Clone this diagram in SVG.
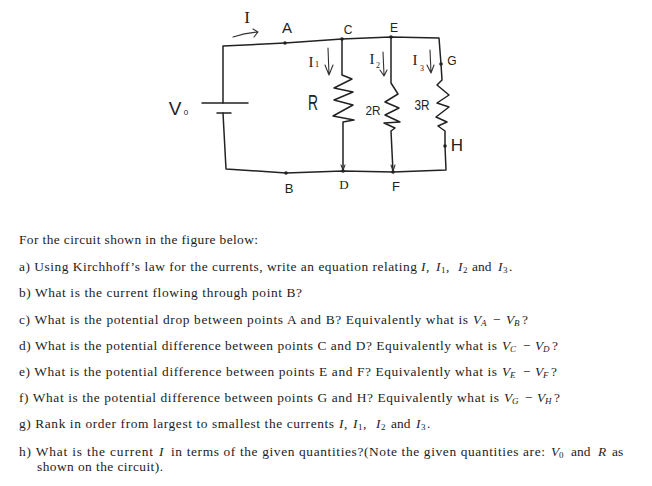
<svg xmlns="http://www.w3.org/2000/svg" width="652" height="486" viewBox="0 0 652 486">
<style>
.w{fill:none;stroke:#222;stroke-width:1.5;stroke-linecap:round;stroke-linejoin:round}
.a{fill:none;stroke:#333;stroke-width:1.1;stroke-linecap:round;stroke-linejoin:round}
.d{fill:#222}
.h{font-family:"Liberation Sans",Arial,sans-serif;fill:#222;text-anchor:middle}
.hs{font-family:"Liberation Serif","Times New Roman",serif;fill:#222;text-anchor:middle}
.t{font-family:"Liberation Serif","Times New Roman",serif;font-size:13.4px;fill:#1c1c1c}
.m{font-style:italic}
.s{font-size:9px}
</style>
<rect width="652" height="486" fill="#fff"/>
<g id="connectors">
<path class="w" d="M223 103L223 46L285 43L342 39L391 37L439 38L441 64L442 80L437 85L449 95L437 103L449 107L436 117L447 122L438 126L445 131L445 146L446 170L393 172L343 171L286 173L226 169L223 113"/>
<path class="w" d="M202 103H248M217 113H231"/>
<path class="w" d="M342 39L342 75L352 79L334 88L353 92L334 100L353 105L333 116L354 120L343 122L343 171"/>
<path class="w" d="M391 37L391 83L398 94L385 102L399 108L385 115L400 122L384 123L395 128L391 131L393 172"/>
<path class="a" d="M233 37Q245 33 258 32M253 29L258 32L254 37"/>
<path class="a" d="M328 48L329 75M325 65L329 75L333 65"/>
<path class="a" d="M383 52L384 75M380 70L384 76L387 70"/>
<path class="a" d="M430 50L431 73M427 65L431 73L434 65"/>
<path class="a" d="M341 165L343 170L345 165M391 165L393 171L395 165"/>
</g>
<g id="node-I"><text class="hs" x="247" y="23" font-size="17">I</text></g>
<g id="node-A"><circle class="d" cx="285" cy="43" r="1.8"/><text class="h" x="287" y="33" font-size="15">A</text></g>
<g id="node-C"><circle class="d" cx="342" cy="39" r="1.8"/><text class="h" x="348" y="34" font-size="12">C</text></g>
<g id="node-E"><circle class="d" cx="391" cy="37" r="1.8"/><text class="h" x="394" y="32" font-size="12">E</text></g>
<g id="node-G"><circle class="d" cx="441" cy="64" r="1.8"/><text class="h" x="452" y="65" font-size="12">G</text></g>
<g id="node-H"><circle class="d" cx="445" cy="146" r="1.8"/><text class="h" x="457" y="151" font-size="17">H</text></g>
<g id="node-B"><circle class="d" cx="286" cy="173" r="1.8"/><text class="h" x="289" y="193" font-size="13">B</text></g>
<g id="node-D"><circle class="d" cx="343" cy="171" r="1.8"/><text class="hs" x="344" y="189" font-size="13">D</text></g>
<g id="node-F"><circle class="d" cx="393" cy="172" r="1.8"/><text class="h" x="396" y="191" font-size="13">F</text></g>
<g id="label-I1"><text class="hs" x="311" y="67" font-size="15">I</text><text class="hs" x="317" y="67" font-size="9">1</text></g>
<g id="label-I2"><text class="hs" x="372" y="64" font-size="15">I</text><text class="hs" x="378" y="68" font-size="8">2</text></g>
<g id="label-I3"><text class="hs" x="415" y="65" font-size="15">I</text><text class="hs" x="422" y="71" font-size="8">3</text></g>
<g id="label-R"><text class="h" x="313" y="110" font-size="22" textLength="10" lengthAdjust="spacingAndGlyphs">R</text></g>
<g id="label-2R"><text class="h" x="373" y="115" font-size="13" textLength="15" lengthAdjust="spacingAndGlyphs">2R</text></g>
<g id="label-3R"><text class="h" x="422" y="110" font-size="15" textLength="15" lengthAdjust="spacingAndGlyphs">3R</text></g>
<g id="label-V0"><text class="h" x="175" y="115" font-size="19">V</text><text class="h" x="186" y="115" font-size="8">0</text></g>

<text class="t" x="19" y="244" textLength="239">For the circuit shown in the figure below:</text>

<text class="t" x="19" y="271" textLength="398">a) Using Kirchhoff’s law for the currents, write an equation relating</text>
<text class="t" y="271"><tspan class="m" x="421">I</tspan><tspan x="426">,</tspan><tspan class="m" x="436">I</tspan><tspan class="s" x="441" dy="2">1</tspan><tspan x="446" dy="-2">,</tspan><tspan class="m" x="458">I</tspan><tspan class="s" x="463" dy="2">2</tspan><tspan x="472" dy="-2">and</tspan><tspan class="m" x="498">I</tspan><tspan class="s" x="503" dy="2">3</tspan><tspan x="509" dy="-2">.</tspan></text>

<text class="t" x="19" y="297" textLength="283">b) What is the current flowing through point B?</text>

<text class="t" x="19" y="324" textLength="449">c) What is the potential drop between points A and B? Equivalently what is</text>
<text class="t" y="324"><tspan class="m" x="473">V</tspan><tspan class="m s" x="481" dy="2">A</tspan><tspan x="493" dy="-2">−</tspan><tspan class="m" x="506">V</tspan><tspan class="m s" x="514" dy="2">B</tspan><tspan x="522" dy="-2">?</tspan></text>

<text class="t" x="19" y="350" textLength="478">d) What is the potential difference between points C and D? Equivalently what is</text>
<text class="t" y="350"><tspan class="m" x="502">V</tspan><tspan class="m s" x="510" dy="2">C</tspan><tspan x="523" dy="-2">−</tspan><tspan class="m" x="535">V</tspan><tspan class="m s" x="543" dy="2">D</tspan><tspan x="552" dy="-2">?</tspan></text>

<text class="t" x="19" y="376" textLength="478">e) What is the potential difference between points E and F? Equivalently what is</text>
<text class="t" y="376"><tspan class="m" x="502">V</tspan><tspan class="m s" x="510" dy="2">E</tspan><tspan x="523" dy="-2">−</tspan><tspan class="m" x="535">V</tspan><tspan class="m s" x="543" dy="2">F</tspan><tspan x="551" dy="-2">?</tspan></text>

<text class="t" x="19" y="402" textLength="480">f) What is the potential difference between points G and H? Equivalently what is</text>
<text class="t" y="402"><tspan class="m" x="504">V</tspan><tspan class="m s" x="512" dy="2">G</tspan><tspan x="525" dy="-2">−</tspan><tspan class="m" x="537">V</tspan><tspan class="m s" x="545" dy="2">H</tspan><tspan x="554" dy="-2">?</tspan></text>

<text class="t" x="19" y="428" textLength="315">g) Rank in order from largest to smallest the currents</text>
<text class="t" y="428"><tspan class="m" x="339">I</tspan><tspan x="344">,</tspan><tspan class="m" x="353">I</tspan><tspan class="s" x="358" dy="2">1</tspan><tspan x="363" dy="-2">,</tspan><tspan class="m" x="376">I</tspan><tspan class="s" x="381" dy="2">2</tspan><tspan x="391" dy="-2">and</tspan><tspan class="m" x="416">I</tspan><tspan class="s" x="421" dy="2">3</tspan><tspan x="427" dy="-2">.</tspan></text>

<text class="t" x="19" y="456" textLength="134">h) What is the current</text>
<text class="t m" x="159" y="456">I</text>
<text class="t" x="171" y="456" textLength="374">in terms of the given quantities?(Note the given quantities are:</text>
<text class="t" y="456"><tspan class="m" x="551">V</tspan><tspan class="s" x="559" dy="2">0</tspan><tspan x="571" dy="-2">and</tspan><tspan class="m" x="598">R</tspan><tspan x="612">as</tspan></text>
<text class="t" x="37" y="471" textLength="126">shown on the circuit).</text>
</svg>
